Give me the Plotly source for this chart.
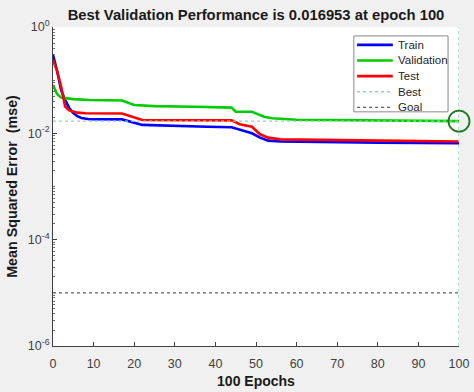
import plotly.graph_objects as go

# ---- data ----
train_epochs = [0, 1, 2, 3, 4, 5, 6, 7, 9, 12, 17, 22, 30, 38, 44, 46, 49, 51, 53, 56, 66, 80, 100]
train_mse = [0.30, 0.15, 0.065, 0.042, 0.030, 0.024, 0.021, 0.0195, 0.0184, 0.0184, 0.0183, 0.0144,
             0.0137, 0.0133, 0.0130, 0.0116, 0.0100, 0.0083, 0.0073, 0.0070, 0.0068, 0.0067, 0.0065]

val_epochs = [0, 1, 2, 3, 5, 9, 12, 17, 20, 25, 35, 44, 45, 49, 52, 54, 60, 70, 100]
val_mse = [0.081, 0.055, 0.047, 0.0456, 0.044, 0.0424, 0.042, 0.0415, 0.0341, 0.0325, 0.0317,
           0.0304, 0.0255, 0.0255, 0.0206, 0.0192, 0.0180, 0.0176, 0.016953]

test_epochs = [0, 1, 2, 3, 4, 6, 8, 12, 17, 22, 30, 44, 46, 49, 51, 53, 56, 66, 100]
test_mse = [0.24, 0.15, 0.075, 0.032, 0.027, 0.0245, 0.0238, 0.0238, 0.0236, 0.0178, 0.0175,
            0.0175, 0.0148, 0.0133, 0.0096, 0.0083, 0.0077, 0.0075, 0.0070]

best_epoch = 100
best_perf = 0.016953
goal = 1e-5
x_range = [0, 100]
y_range_log = [-6, 0]
x_ticks = [0, 10, 20, 30, 40, 50, 60, 70, 80, 90, 100]
y_ticks = [1, 1e-2, 1e-4, 1e-6]
y_tick_text = ["10<sup>0</sup>", "10<sup>-2</sup>", "10<sup>-4</sup>", "10<sup>-6</sup>"]
y_minor_ticks = [m * 10.0 ** e for e in range(-6, 0) for m in range(2, 11)]

legend_names = ["Train", "Validation", "Test", "Best", "Goal"]

FONT = "Liberation Sans, Arial, sans-serif"
C_TRAIN, C_VAL, C_TEST = "#0000ff", "#00cc00", "#ff0000"
C_BEST, C_GOAL = "#8fd6b0", "#606060"

fig = go.Figure()
fig.add_trace(go.Scatter(x=train_epochs, y=train_mse, mode="lines", name="Train",
                         line=dict(color=C_TRAIN, width=2.6)))
fig.add_trace(go.Scatter(x=val_epochs, y=val_mse, mode="lines", name="Validation",
                         line=dict(color=C_VAL, width=2.6)))
fig.add_trace(go.Scatter(x=test_epochs, y=test_mse, mode="lines", name="Test",
                         line=dict(color=C_TEST, width=2.6)))
fig.add_trace(go.Scatter(x=[x_range[0], best_epoch, None, best_epoch, best_epoch],
                         y=[best_perf, best_perf, None, 1e-6, 1],
                         mode="lines", name="Best", cliponaxis=False,
                         line=dict(color=C_BEST, width=1.3, dash="dot")))
fig.add_trace(go.Scatter(x=x_range, y=[goal, goal], mode="lines", name="Goal",
                         line=dict(color=C_GOAL, width=1.3, dash="dot")))
fig.add_trace(go.Scatter(x=[best_epoch], y=[best_perf], mode="markers", showlegend=False,
                         marker=dict(symbol="circle-open", size=21, color="#1e7a1e",
                                     line=dict(width=1.8, color="#1e7a1e")),
                         cliponaxis=False))

# ---- MATLAB-style legend box (paper coordinates) ----
styles = {"Train": (C_TRAIN, 2.6, "solid"), "Validation": (C_VAL, 2.6, "solid"),
          "Test": (C_TEST, 2.6, "solid"), "Best": (C_BEST, 1.3, "dot"),
          "Goal": (C_GOAL, 1.3, "dot")}
box_x0, box_x1, box_y0, box_y1 = 0.741, 0.973, 0.734, 0.972
row_top, row_step = 0.944, 0.049
fig.add_shape(type="rect", xref="paper", yref="paper", x0=box_x0, x1=box_x1, y0=box_y0, y1=box_y1,
              fillcolor="#ffffff", line=dict(color="#8a8a8a", width=1), layer="above")
for i, nm in enumerate(legend_names):
    yy = row_top - i * row_step
    col, w, d = styles[nm]
    fig.add_shape(type="line", xref="paper", yref="paper", x0=0.749, x1=0.837, y0=yy, y1=yy,
                  line=dict(color=col, width=w, dash=d), layer="above")
    fig.add_annotation(text=nm, xref="paper", yref="paper", x=0.844, y=yy, xanchor="left",
                       yanchor="middle", showarrow=False,
                       font=dict(family=FONT, size=11.5, color="#262626"))

fig.update_layout(
    width=474, height=392,
    margin=dict(l=53, r=15, t=27, b=46),
    paper_bgcolor="#f0f0f0", plot_bgcolor="#ffffff",
    font=dict(family=FONT, size=12, color="#404040"),
    title=dict(text="<b>Best Validation Performance is 0.016953 at epoch 100</b>",
               x=0.5, xanchor="center", xref="paper", y=0.963, yanchor="middle",
               font=dict(family=FONT, size=14.8, color="#1a1a1a")),
    showlegend=False,
)
fig.update_xaxes(range=x_range, tickvals=x_ticks, ticks="inside", ticklen=4, automargin=False,
                 tickcolor="#404040", showline=True, linecolor="#404040", linewidth=1,
                 showgrid=False, zeroline=False, mirror=False, ticklabelstandoff=6,
                 tickfont=dict(size=12.5, color="#404040"),
                 title=dict(text="<b>100 Epochs</b>", standoff=6,
                            font=dict(family=FONT, size=14, color="#1a1a1a")))
fig.update_yaxes(type="log", range=y_range_log, tickvals=y_ticks, ticktext=y_tick_text,
                 ticks="inside", ticklen=4, tickcolor="#404040", automargin=False,
                 showline=True, linecolor="#404040", linewidth=1,
                 showgrid=False, zeroline=False,
                 minor=dict(ticks="inside", ticklen=2, tickcolor="#707070",
                            tickvals=y_minor_ticks, showgrid=False),
                 tickfont=dict(size=12.5, color="#404040"),
                 title=dict(text="<b>Mean Squared Error  (mse)</b>", standoff=6,
                            font=dict(family=FONT, size=14.3, color="#1a1a1a")))

fig.write_html("out.html", config={"displayModeBar": False},
               post_script="document.body.style.margin='0px';")
